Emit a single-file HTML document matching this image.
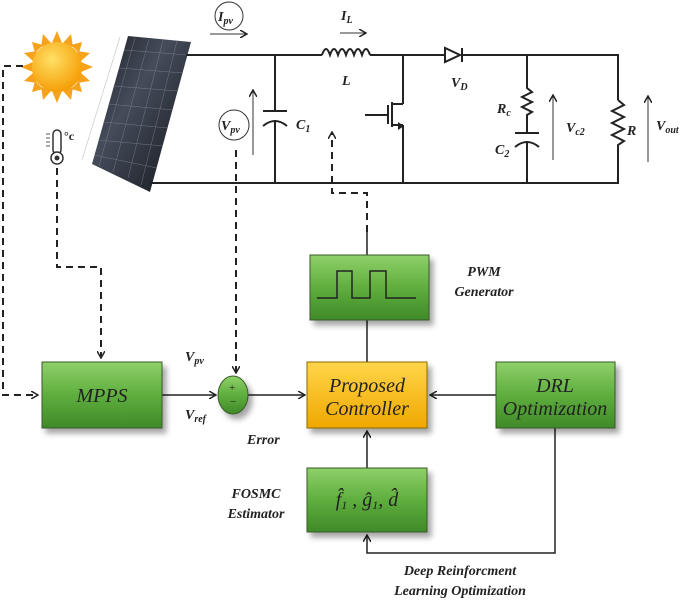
<!DOCTYPE html>
<html><head><meta charset="utf-8"><style>
body{margin:0;background:#fff}
svg{display:block}
text{font-family:"Liberation Serif",serif;font-style:italic;font-weight:bold;fill:#222}
text.n{font-weight:normal}
</style></head><body>
<svg width="685" height="612" viewBox="0 0 685 612" xmlns="http://www.w3.org/2000/svg">
<defs>
<linearGradient id="g" x1="0" y1="0" x2="0" y2="1"><stop offset="0" stop-color="#8fd06a"/><stop offset=".5" stop-color="#5fae3e"/><stop offset="1" stop-color="#3f8a28"/></linearGradient>
<linearGradient id="y" x1="0" y1="0" x2="0" y2="1"><stop offset="0" stop-color="#ffd54a"/><stop offset="1" stop-color="#f0a800"/></linearGradient>
<radialGradient id="s" cx=".4" cy=".35" r=".7"><stop offset="0" stop-color="#ffe066"/><stop offset="1" stop-color="#f59a00"/></radialGradient>
<linearGradient id="p" x1="0" y1="0" x2="1" y2="1"><stop offset="0" stop-color="#1a1d24"/><stop offset=".4" stop-color="#454c5a"/><stop offset="1" stop-color="#101318"/></linearGradient>
<marker id="a" markerWidth="8" markerHeight="8" refX="7" refY="4" orient="auto" markerUnits="userSpaceOnUse"><path d="M0,0 L7,4 L0,8" fill="none" stroke="#222" stroke-width="1.5"/></marker>
<filter id="sh"><feDropShadow dx="4" dy="5" stdDeviation="3" flood-opacity=".35"/></filter>
</defs>
<g transform="translate(57,67)">
<g fill="#f7a21b">
<polygon points="0,-36 5,-24 -5,-24"/><polygon points="0,36 5,24 -5,24"/><polygon points="-36,0 -24,5 -24,-5"/><polygon points="36,0 24,5 24,-5"/>
<polygon points="25,-25 14,-22 22,-14"/><polygon points="-25,-25 -14,-22 -22,-14"/><polygon points="25,25 14,22 22,14"/><polygon points="-25,25 -14,22 -22,14"/>
<polygon points="14,-33 6,-24 16,-20"/><polygon points="-14,-33 -6,-24 -16,-20"/><polygon points="14,33 6,24 16,20"/><polygon points="-14,33 -6,24 -16,20"/>
<polygon points="33,14 24,6 20,16"/><polygon points="-33,14 -24,6 -20,16"/><polygon points="33,-14 24,-6 20,-16"/><polygon points="-33,-14 -24,-6 -20,-16"/>
</g>
<circle r="25" fill="url(#s)"/></g>
<rect x="53" y="130" width="8" height="24" rx="4" fill="none" stroke="#333" stroke-width="1.5"/><circle cx="57" cy="158" r="6" fill="#fff" stroke="#333" stroke-width="1.5"/><circle cx="57" cy="158" r="2.5" fill="#333"/>
<path d="M46,134h4M46,138h4M46,142h4M46,146h4" stroke="#555"/>
<text x="64" y="140" font-size="12" style="font-style:normal">°c</text>
<polygon points="128,36 191,42 150,192 92,164" fill="url(#p)"/>
<g stroke="#8892a0" stroke-width=".5" opacity=".7">
<path d="M120,37 L82,160 M135,38 L99,166 M149,39 L113,172 M163,40 L128,178 M177,41 L141,185"/>
<path d="M124,50 L188,55 M119,68 L183,73 M113,86 L178,91 M108,104 L173,110 M103,122 L168,128 M98,140 L163,146 M94,155 L157,168"/>
</g>
<g stroke="#222" stroke-width="2" fill="none">
<path d="M186,55 H322 M370,55 H445 M462,55 H618 V100 M618,155 V183 H150"/>
<path d="M322,55 q4,-12 8,0 q4,-12 8,0 q4,-12 8,0 q4,-12 8,0 q4,-12 8,0 q4,-12 8,0"/>
<path d="M275,55 V111 M263,111 H287 M263,126 Q275,116 287,126 M275,120 V183"/>
<path d="M403,55 V104 M403,125 V183 M392,104 H403 M392,125 H403 M392,102 V127 M388,105 V124 M365,115 H388"/>
<path d="M445,48 V62 L460,55 Z M462,48 V62" fill="#fff"/>
<path d="M527,55 V88 l5,4 -10,5 10,5 -10,5 10,5 -5,3 V133 M515,133 H539 M515,147 Q527,137 539,147 M527,141 V183"/>
<path d="M618,100 l6,5 -12,6 12,6 -12,6 12,6 -12,6 12,6 -6,4 V155"/>
</g>
<path d="M398,122 l6,4 -6,4z" fill="#222"/>
<g stroke="#333" stroke-width="1" marker-end="url(#a)">
<line x1="210" y1="34" x2="247" y2="34"/><line x1="340" y1="33" x2="366" y2="33"/>
<line x1="253" y1="155" x2="253" y2="90"/><line x1="553" y1="160" x2="553" y2="95"/><line x1="648" y1="162" x2="648" y2="96"/>
</g>
<circle cx="229" cy="16" r="14" fill="#fff" stroke="#333"/><text x="218" y="21" font-size="14">I<tspan font-size="10" dy="3">pv</tspan></text>
<circle cx="234" cy="125" r="15" fill="#fff" stroke="#333"/><text x="221" y="130" font-size="14">V<tspan font-size="10" dy="3">pv</tspan></text>
<text x="341" y="20" font-size="14">I<tspan font-size="10" dy="3">L</tspan></text>
<text x="342" y="85" font-size="14">L</text>
<text x="296" y="129" font-size="14">C<tspan font-size="10" dy="3">1</tspan></text>
<text x="451" y="87" font-size="14">V<tspan font-size="10" dy="3">D</tspan></text>
<text x="497" y="113" font-size="14">R<tspan font-size="10" dy="3">c</tspan></text>
<text x="495" y="154" font-size="14">C<tspan font-size="10" dy="3">2</tspan></text>
<text x="566" y="132" font-size="14">V<tspan font-size="10" dy="3">c2</tspan></text>
<text x="627" y="135" font-size="14">R</text>
<text x="656" y="130" font-size="14">V<tspan font-size="10" dy="3">out</tspan></text>
<g stroke="#222" stroke-width="2" fill="none" stroke-dasharray="7,5">
<path d="M23,66 H3 V395 H38" marker-end="url(#a)"/>
<path d="M57,168 V267 H101 V358" marker-end="url(#a)"/>
<path d="M236,150 V373" marker-end="url(#a)"/>
<path d="M367,232 V193 H332 V132" marker-end="url(#a)"/>
</g>
<g stroke="#222" stroke-width="1.5" fill="none">
<path d="M367,255 V232 M367,320 V362"/>
<path d="M162,395 H216" marker-end="url(#a)"/>
<path d="M248,395 H305" marker-end="url(#a)"/>
<path d="M496,395 H430" marker-end="url(#a)"/>
<path d="M367,468 V431" marker-end="url(#a)"/>
<path d="M555,428 V553 H367 V535" marker-end="url(#a)"/>
</g>
<g filter="url(#sh)" stroke="#3a5a2a" stroke-width="1">
<rect x="42" y="362" width="120" height="66" fill="url(#g)"/>
<rect x="310" y="255" width="119" height="65" fill="url(#g)"/>
<rect x="307" y="362" width="120" height="66" fill="url(#y)" stroke="#8a6a00"/>
<rect x="496" y="362" width="119" height="66" fill="url(#g)"/>
<rect x="307" y="468" width="120" height="64" fill="url(#g)"/>
<ellipse cx="233" cy="395" rx="15" ry="19" fill="url(#g)"/>
</g>
<path d="M317,298 H337 V271 H352 V298 H370 V271 H386 V298 H416" stroke="#222" stroke-width="1.5" fill="none"/>
<text class="n" x="229" y="391" font-size="11" style="font-style:normal">+</text>
<text class="n" x="230" y="405" font-size="11" style="font-style:normal">−</text>
<text class="n" x="102" y="402" font-size="20" text-anchor="middle">MPPS</text>
<text class="n" x="367" y="392" font-size="20" text-anchor="middle">Proposed</text>
<text class="n" x="367" y="415" font-size="20" text-anchor="middle">Controller</text>
<text class="n" x="555" y="392" font-size="20" text-anchor="middle">DRL</text>
<text class="n" x="555" y="415" font-size="20" text-anchor="middle">Optimization</text>
<text class="n" x="367" y="506" font-size="20" text-anchor="middle">f̂<tspan font-size="12" dy="3">1</tspan><tspan dy="-3"> , ĝ</tspan><tspan font-size="12" dy="3">1</tspan><tspan dy="-3">, d̂</tspan></text>
<text x="484" y="276" font-size="14" text-anchor="middle">PWM</text>
<text x="484" y="296" font-size="14" text-anchor="middle">Generator</text>
<text x="185" y="361" font-size="14">V<tspan font-size="10" dy="3">pv</tspan></text>
<text x="185" y="419" font-size="14">V<tspan font-size="10" dy="3">ref</tspan></text>
<text x="247" y="444" font-size="14">Error</text>
<text x="256" y="498" font-size="14" text-anchor="middle">FOSMC</text>
<text x="256" y="518" font-size="14" text-anchor="middle">Estimator</text>
<text x="460" y="575" font-size="14" text-anchor="middle">Deep Reinforcment</text>
<text x="460" y="595" font-size="14" text-anchor="middle">Learning Optimization</text>
</svg>
</body></html>
